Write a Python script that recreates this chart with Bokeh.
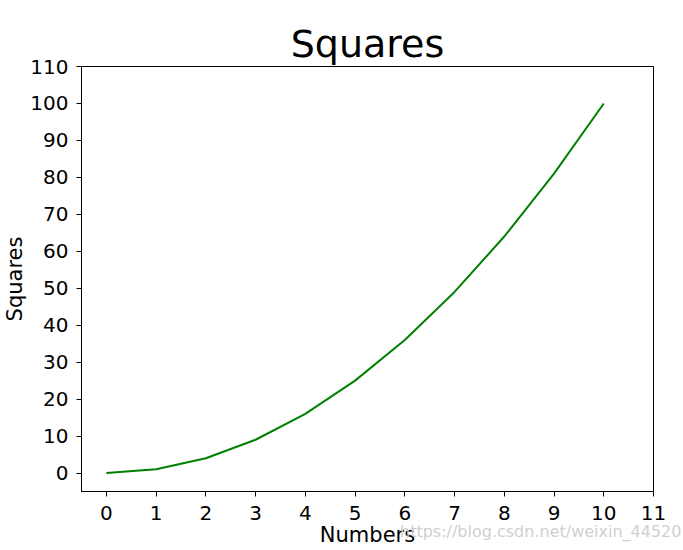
from bokeh.plotting import figure
from bokeh.models import FixedTicker, Range1d, Div
from bokeh.layouts import column
from bokeh.embed import file_html
from bokeh.resources import INLINE

numbers = [0, 1, 2, 3, 4, 5, 6, 7, 8, 9, 10]
squares = [0, 1, 4, 9, 16, 25, 36, 49, 64, 81, 100]
x_ticks = list(range(0, 12))
y_ticks = list(range(0, 120, 10))
watermark = "https://blog.csdn.net/weixin_44520"

FONT = "DejaVu Sans"

p = figure(width=675, height=549, output_backend="svg", toolbar_location=None,
           x_range=Range1d(-0.5, 11), y_range=Range1d(-5, 110),
           min_border_left=78, min_border_right=22, min_border_top=66, min_border_bottom=56)

p.line(numbers, squares, line_color="#008000", line_width=2)

p.title.text = "Squares"
p.title.align = "center"
p.title.text_font = FONT
p.title.text_font_size = "38px"
p.title.text_font_style = "normal"
p.title.text_color = "#000000"
p.title.standoff = 2

p.xaxis.ticker = FixedTicker(ticks=x_ticks)
p.yaxis.ticker = FixedTicker(ticks=y_ticks)
p.xaxis.axis_label = "Numbers"
p.yaxis.axis_label = "Squares"
for ax in (p.xaxis, p.yaxis):
    ax.axis_label_text_font = FONT
    ax.axis_label_text_font_size = "21px"
    ax.axis_label_text_font_style = "normal"
    ax.axis_label_text_color = "#000000"
    ax.major_label_text_font = FONT
    ax.major_label_text_font_size = "20px"
    ax.major_label_text_color = "#000000"
    ax.major_tick_line_color = "#000000"
    ax.major_tick_out = 5
    ax.major_tick_in = 0
    ax.minor_tick_line_color = None
    ax.axis_line_color = "#000000"
p.xaxis.major_label_standoff = 9
p.xaxis.axis_label_standoff = 0
p.yaxis.major_label_standoff = 8
p.yaxis.axis_label_standoff = 0

p.xgrid.grid_line_color = None
p.ygrid.grid_line_color = None
p.outline_line_color = "#000000"
p.outline_line_alpha = 1.0
p.background_fill_color = "white"
p.border_fill_color = "white"

wm = Div(text=watermark, width=280, height=20,
         styles={"margin-top": "-28px", "margin-left": "400px", "color": "#d0d0d0",
                 "font-family": "DejaVu Sans", "font-size": "16px", "white-space": "nowrap"})

layout = column(p, wm, spacing=0)
open("out.html", "w").write(file_html(layout, INLINE))
